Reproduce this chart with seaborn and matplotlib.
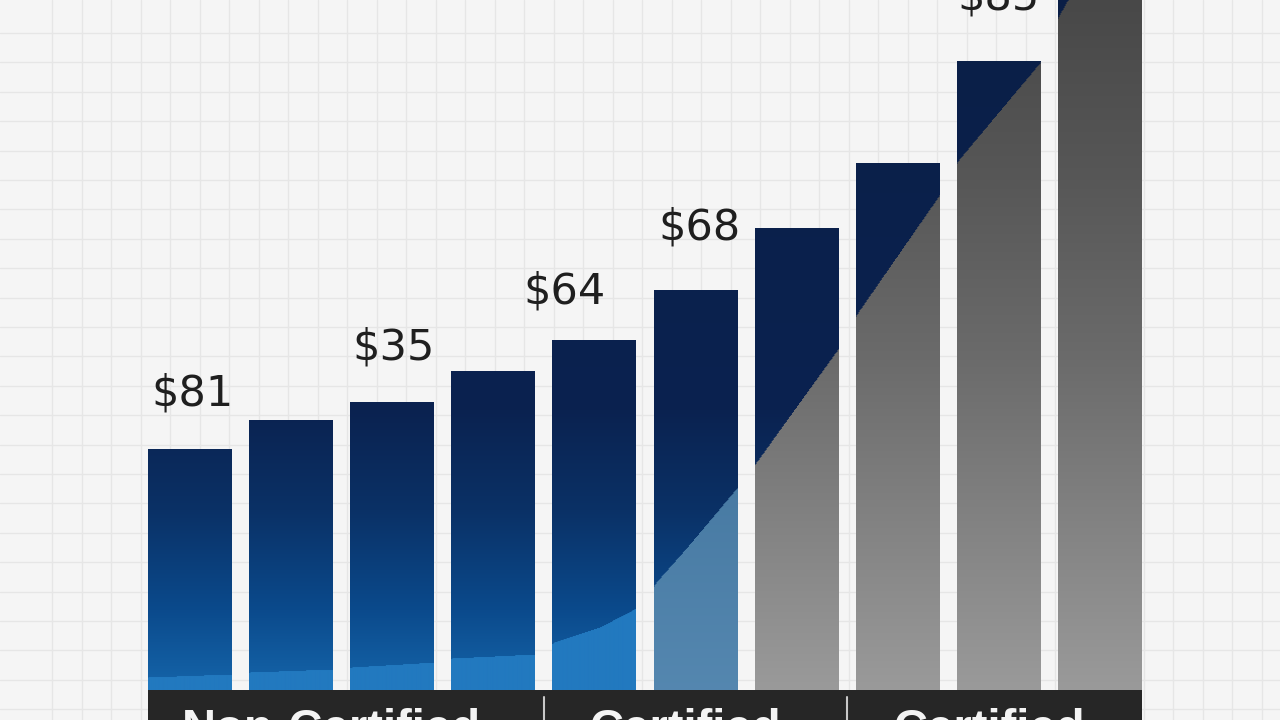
import numpy as np
import matplotlib
matplotlib.use("Agg")
import matplotlib.pyplot as plt
import seaborn as sns
from matplotlib.colors import to_rgb
from matplotlib.patches import Rectangle

# bar heights (chart units), left to right
tiers = ["T1", "T2", "T3", "T4", "T5", "T6", "T7", "T8", "T9", "T10"]
heights = [24.1, 27.0, 28.8, 31.9, 35.0, 40.0, 46.2, 52.7, 62.9, 74.0]

# price call-outs (x = bar index, y = baseline in chart units)
price_labels = ["$81", "$35", "$64", "$68", "$85"]
price_x = [0.03, 2.02, 3.71, 5.04, 7.99]
price_y = [28.5, 33.0, 38.6, 45.0, 68.0]

# groups in the dark band under the bars
group_names = ["Non-Certified", "Certified", "Certified"]
group_first = [0, 4, 7]
group_last = [3, 6, 9]

# rising curve that splits the bar fill (x = bar index, y = chart units)
curve_x = [-0.42, 0.41, 0.59, 1.42, 1.60, 2.43, 2.59, 3.42, 3.61, 4.06, 4.44,
           4.62, 4.90, 5.44, 5.61, 6.43, 6.61, 7.44, 7.61, 8.42, 8.58, 8.80]
curve_y = [1.2, 1.5, 1.7, 2.0, 2.2, 2.7, 3.1, 3.5, 4.7, 6.2, 8.2,
           10.8, 14.0, 20.5, 22.8, 34.3, 37.7, 49.8, 53.0, 62.8, 67.0, 71.0]

# how grey the area under the curve is in each bar
grey_mix = [0, 0, 0, 0, 0, 0.42, 1, 1, 1, 1]

sns.set_style("white")
fig = plt.figure(figsize=(12.8, 7.2), dpi=100)

# graph paper background
bg = fig.add_axes([0, 0, 1, 1])
bg.set_xlim(0, 1280)
bg.set_ylim(720, 0)
bg.set_facecolor("#f5f5f5")
bg.set_xticks(np.arange(52, 1280, 29.5))
bg.set_yticks(np.arange(33, 720, 29.4))
bg.grid(True, color="#e6e6e6", linewidth=1.0)
bg.tick_params(length=0, labelbottom=False, labelleft=False)
for s in bg.spines.values():
    s.set_visible(False)

ax = fig.add_axes([0, 30 / 720, 1, 690 / 720])
ax.patch.set_alpha(0)
sns.barplot(x=tiers, y=heights, width=0.83, color="#0b2a5a", ax=ax)

# gradient fill image, clipped to each bar
nx, ny = 1000, 800
gx = np.linspace(-0.5, 9.5, nx)
gy = np.linspace(0, 80, ny)
Y = np.repeat(gy[:, None], nx, axis=1)


def ramp(stops, y):
    ys = [s[0] for s in stops]
    cols = np.array([to_rgb(s[1]) for s in stops])
    return np.stack([np.interp(y, ys, cols[:, k]) for k in range(3)], axis=-1)


navy = ramp([(0, "#1565aa"), (8, "#0b4a8c"), (18, "#0a3166"),
             (28, "#0b2250"), (80, "#0a1e44")], Y)
grey = ramp([(0, "#9a9a9a"), (33, "#6b6b6b"), (51, "#575757"),
             (69, "#484848"), (80, "#454545")], Y)
blue = np.array(to_rgb("#2279bf"))
idx = np.clip(np.round(gx), 0, 9).astype(int)
mix = np.array(grey_mix)[idx][None, :, None]
under = blue * (1 - mix) + grey * mix
cy = np.interp(gx, curve_x, curve_y)
below = (Y < cy[None, :])[..., None]
img = np.where(below, under, navy)

for patch in list(ax.patches):
    patch.set_facecolor("none")
    patch.set_edgecolor("none")
    im = ax.imshow(img, extent=[-0.5, 9.5, 0, 80], origin="lower",
                   aspect="auto", interpolation="bilinear", zorder=2)
    im.set_clip_path(patch)

ax.set_xlim((0 - 189.5) / 101.2, (1280 - 189.5) / 101.2)
ax.set_ylim(0, 69.0)
ax.set_xticks([])
ax.set_yticks([])
ax.set_xlabel("")
ax.set_ylabel("")
for s in ax.spines.values():
    s.set_visible(False)

for lab, x, y in zip(price_labels, price_x, price_y):
    ax.text(x, y, lab, ha="center", va="baseline", fontsize=31,
            color="#1f1f1f", family="DejaVu Sans", clip_on=False, zorder=5)

# dark band with group names
half = 0.83 / 2
ax.add_patch(Rectangle((-half, -3.2), 9 + 2 * half, 3.2, facecolor="#262626",
                       edgecolor="none", clip_on=False, zorder=3))
for first, last, name in zip(group_first, group_last, group_names):
    if first > 0:
        ax.plot([first - 0.5, first - 0.5], [-3.2, -0.7], color="#c8c8c8",
                linewidth=1.5, clip_on=False, zorder=4)
    ax.text((first + last) / 2 - 0.1, -5.2, name, ha="center", va="baseline",
            fontsize=34, fontweight="bold", color="#f4f4f4",
            family="Liberation Sans", clip_on=False, zorder=5)

fig.savefig("out.png", dpi=100)
